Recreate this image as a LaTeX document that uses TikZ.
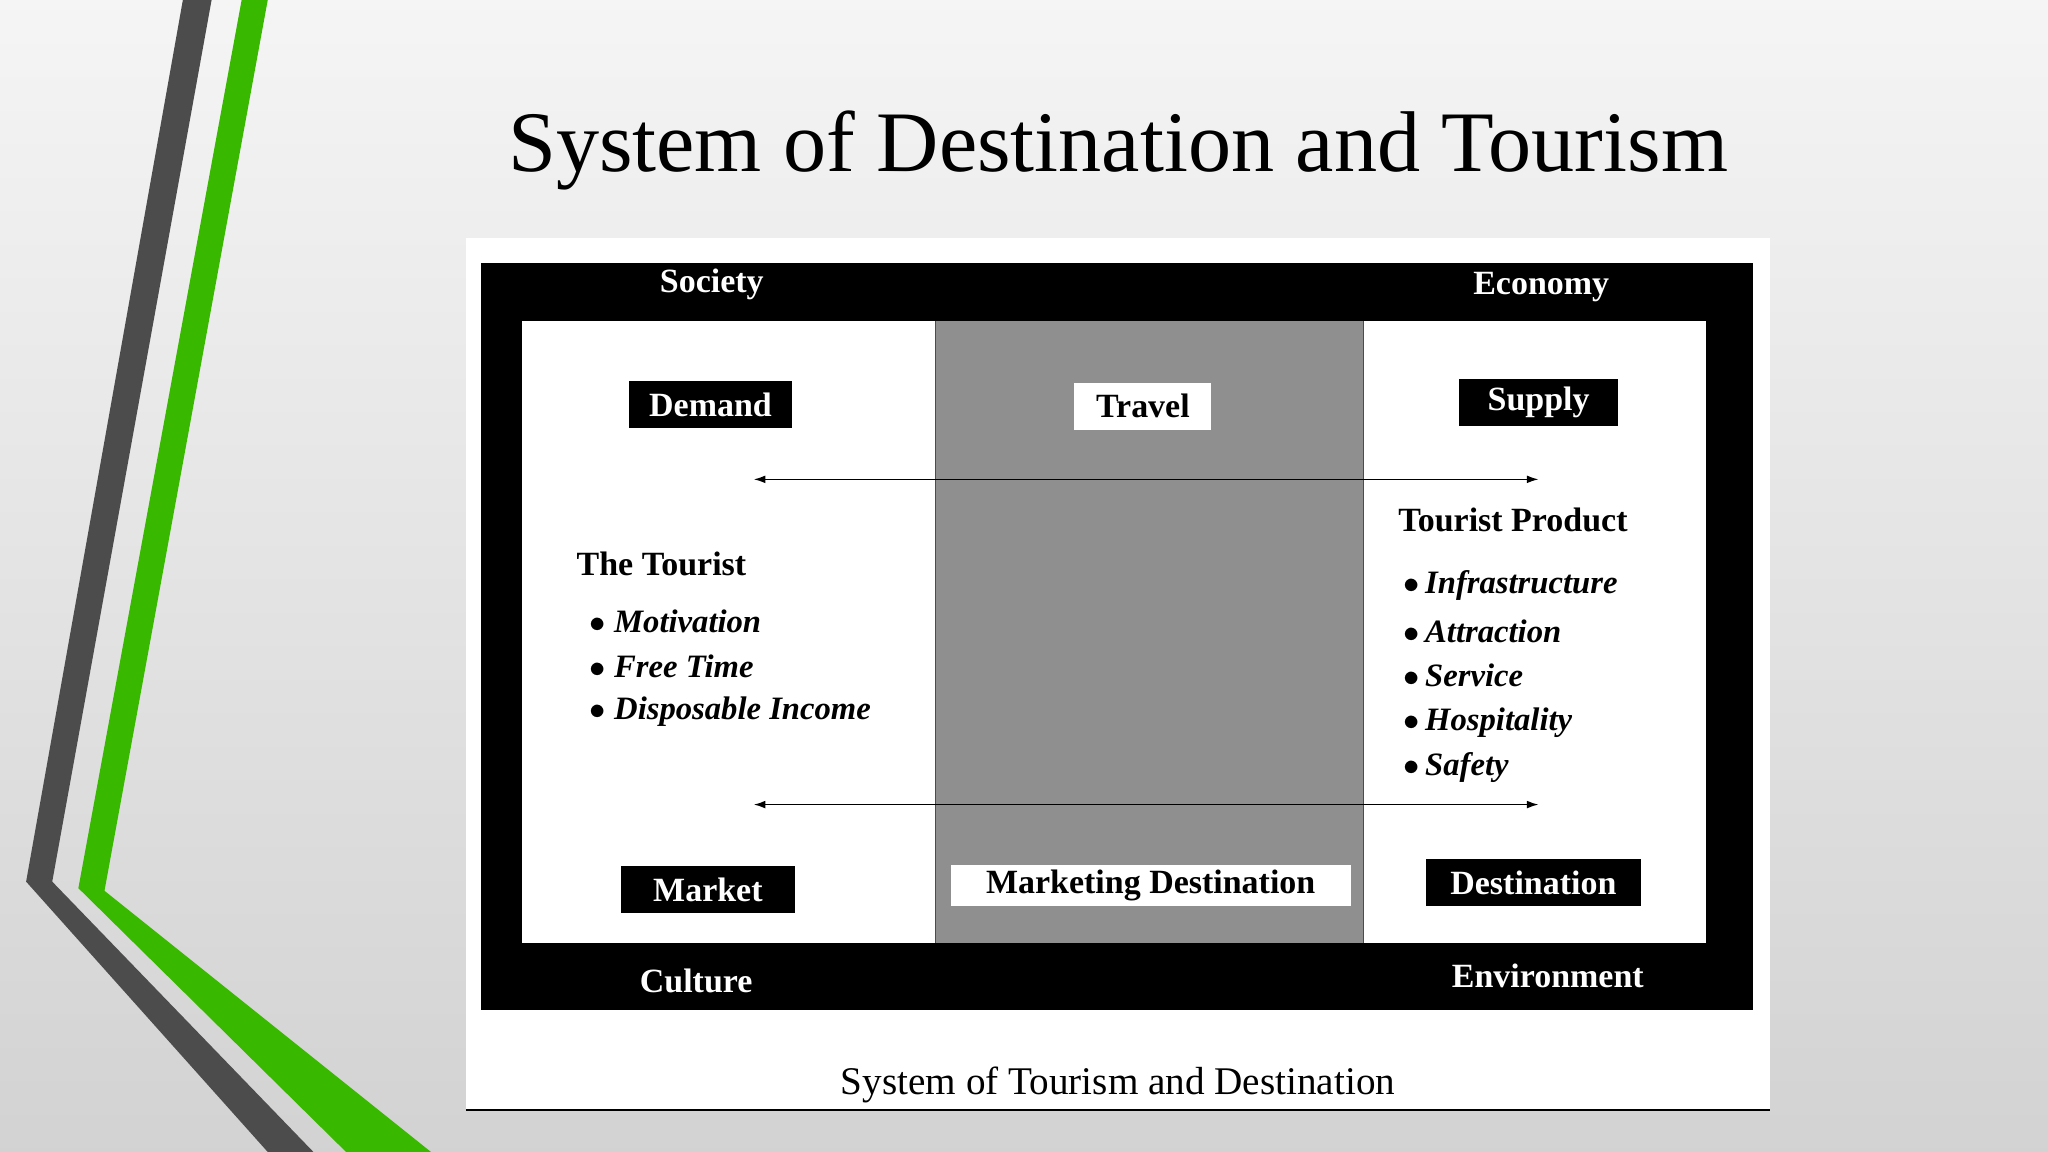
\documentclass[tikz,border=0pt]{standalone}
\usepackage{fontspec}
\setmainfont{Liberation Serif}
\usetikzlibrary{arrows.meta}
\begin{document}
\begin{tikzpicture}[x=1pt,y=-1pt,
  lab/.style={font=\fontsize{26}{28}\selectfont\bfseries},
  wlab/.style={lab,text=white},
  blk/.style={lab,fill=black,text=white,inner sep=2pt,minimum height=36pt},
  wht/.style={lab,fill=white,text=black,inner sep=3pt,minimum height=36pt},
  itm/.style={font=\fontsize{25}{27}\selectfont\bfseries\itshape,anchor=west},
  arr/.style={{Latex[length=9pt,width=6pt]}-{Latex[length=9pt,width=6pt]},line width=1.2pt}]
\useasboundingbox (0,0) rectangle (1568,882);
\shade[top color=gray!8,bottom color=gray!35] (0,0) rectangle (1568,882);
% left stripes
\fill[gray!60!black] (140,0) -- (162,0) -- (40,675) -- (240,882) -- (205,882) -- (20,675) -- cycle;
\fill[green!60!black!70!lime] (185,0) -- (205,0) -- (80,682) -- (330,882) -- (265,882) -- (60,680) -- cycle;
\node[font=\fontsize{66}{70}\selectfont] (title) at (856,115) {System of Destination and Tourism};
% panel
\fill[white] (357,182) rectangle (1355,850);
\draw[line width=1.5pt] (357,850) -- (1355,850);
\fill[black] (368,201) rectangle (1342,773);
\fill[white] (400,246) rectangle (1306,722);
\fill[gray!90!black!80] (716,246) rectangle (1044,722);
\draw[line width=1pt,black!70] (716,246) -- (716,722) (1044,246) -- (1044,722);
\node[wlab] (soc) at (545,218) {Society};
\node[wlab] (eco) at (1180,220) {Economy};
\node[wlab] (cul) at (533,751) {Culture};
\node[wlab] (env) at (1185,747) {Environment};
\node[blk,minimum width=125pt] (dem) at (544,310) {Demand};
\node[wht,minimum width=105pt] (tra) at (875,311) {Travel};
\node[blk,minimum width=122pt] (sup) at (1178,308) {Supply};
\coordinate (a1) at (577,367); \coordinate (b1) at (1178,367);
\coordinate (a2) at (577,616); \coordinate (b2) at (1178,616);
\draw[arr] (a1) -- (b1);
\draw[arr] (a2) -- (b2);
\node[lab,anchor=west] (tt) at (438,432) {The Tourist};
\foreach \t/\y in {Motivation/476,Free Time/510,Disposable Income/545}
  \node[itm] at (448,\y) {$\bullet$\ \t};
\node[lab,anchor=west] (tp) at (1067,398) {Tourist Product};
\foreach \t/\y in {Infrastructure/448,Attraction/483,Service/517,Hospitality/553,Safety/588}
  \node[itm] at (1071,\y) {$\bullet$\,\t};
\node[blk,minimum width=133pt] (mar) at (542,681) {Market};
\node[wht,minimum width=306pt,minimum height=32pt] (md) at (881,678) {Marketing Destination};
\node[blk,minimum width=164pt] (des) at (1174,676) {Destination};
\node[font=\fontsize{30}{32}\selectfont] (cap) at (856,831) {System of Tourism and Destination};
\end{tikzpicture}
\end{document}
